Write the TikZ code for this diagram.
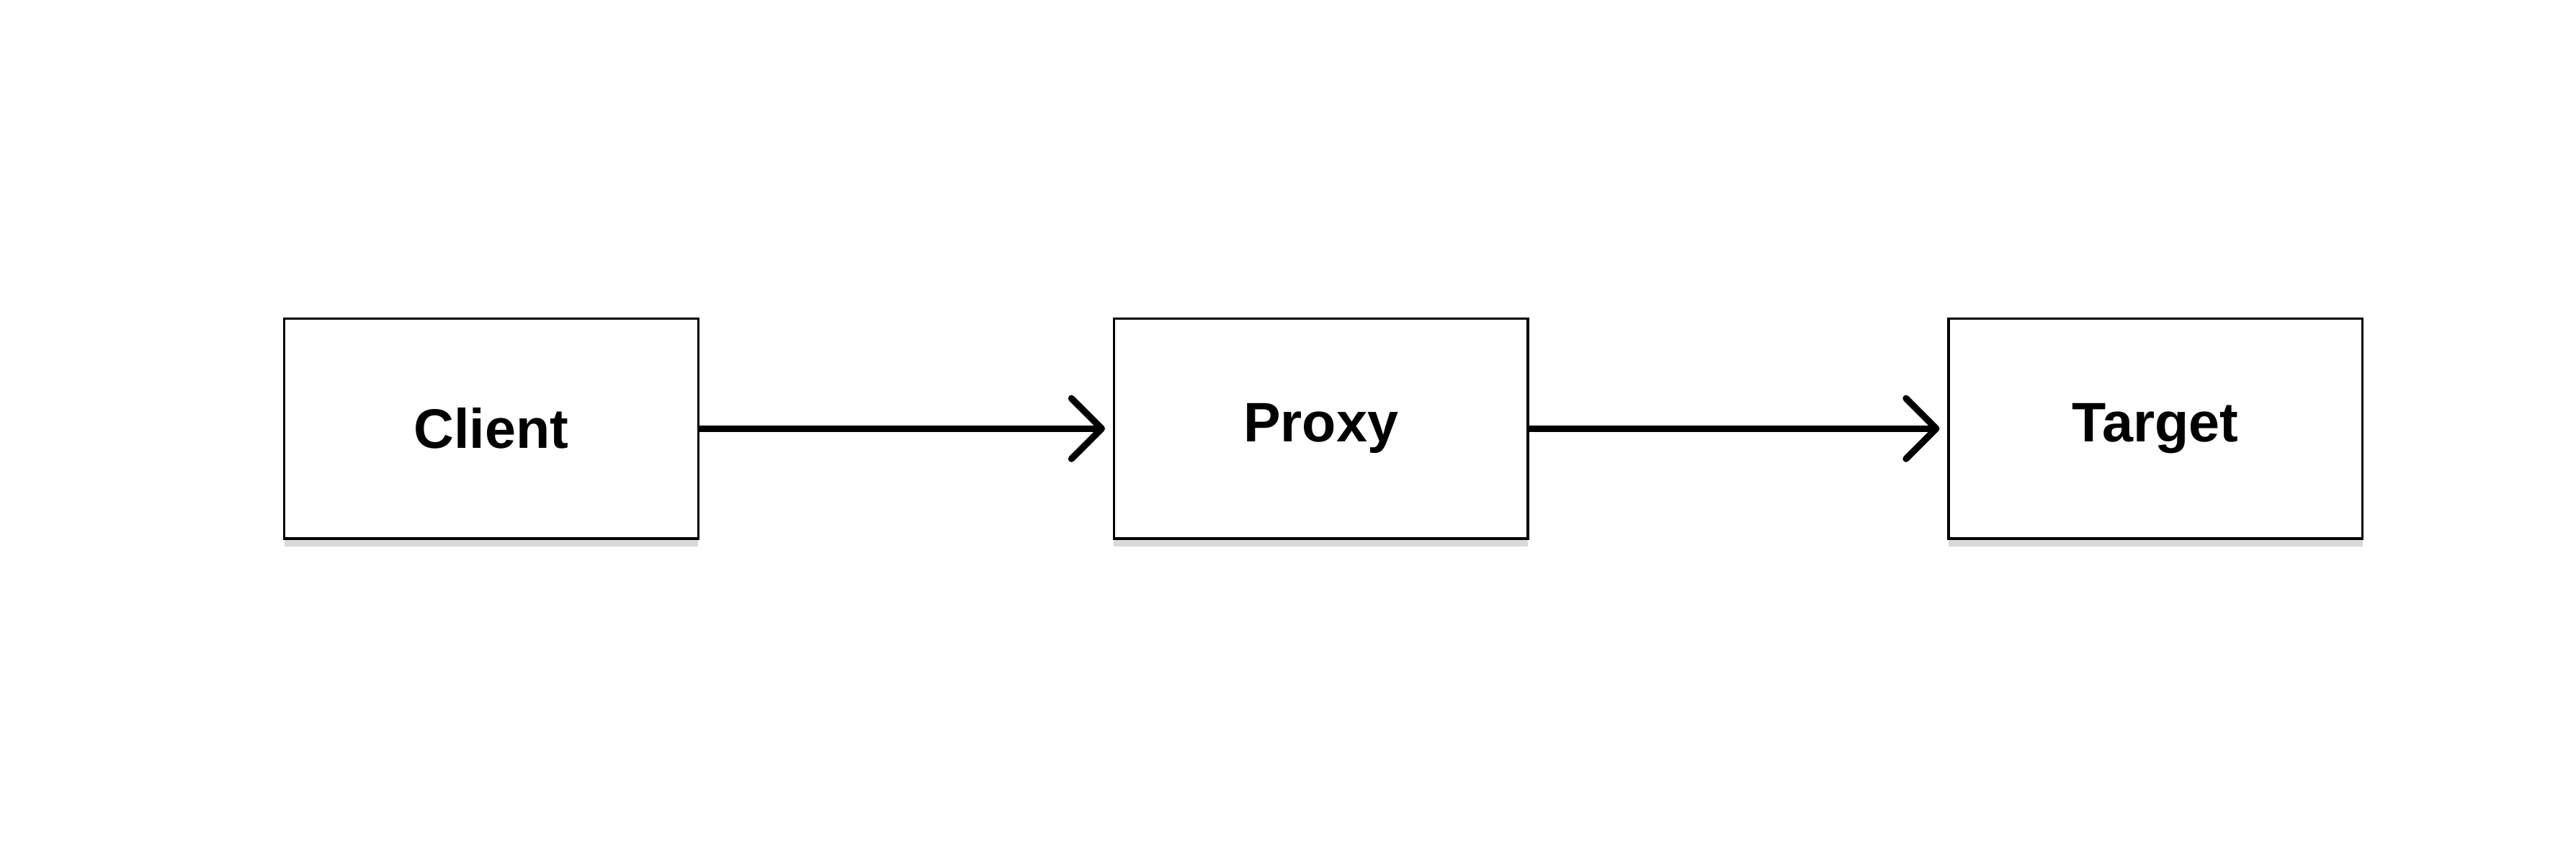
\documentclass[tikz,border=0pt]{standalone}
\usepackage{fontspec}
\setmainfont{Liberation Sans}
\usetikzlibrary{arrows.meta,shadows}
\begin{document}
\begin{tikzpicture}[x=0.0228cm,y=-0.0228cm,
  box/.style={draw=black,line width=1pt,fill=white,minimum width=252*0.0228cm,minimum height=134*0.0228cm,
    font=\bfseries\fontsize{22}{26}\selectfont,
    drop shadow={shadow xshift=0pt,shadow yshift=-3pt,opacity=0.25,fill=black!60}},
  conn/.style={line width=2.6pt,shorten >=3pt,-{Straight Barb[length=0.42cm,width=0.84cm,line cap=round,line join=round]}}]
\useasboundingbox (0,0) rectangle (1568,523);
\node[box] (client) at (299,261) {Client};
\node[box] (proxy) at (804,261) {Proxy};
\node[box] (target) at (1312,261) {Target};
\draw[conn] (client) -- (proxy);
\draw[conn] (proxy) -- (target);
\end{tikzpicture}
\end{document}
